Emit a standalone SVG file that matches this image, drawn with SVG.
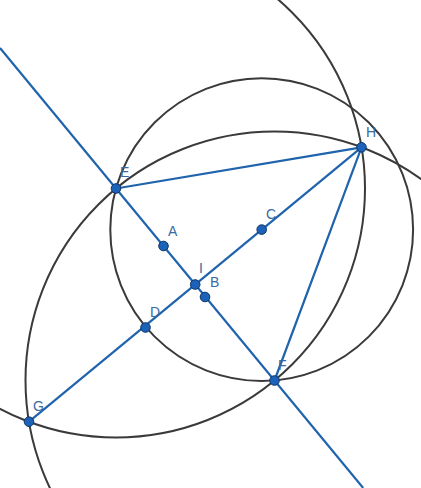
<svg xmlns="http://www.w3.org/2000/svg" width="421" height="488" viewBox="0 0 421 488">
<style>
.circ{fill:none;stroke:#3a3a3a;stroke-width:2}
.ln{stroke:#1f63ad;stroke-width:2.2;fill:none}
.pt{fill:#1c62b8;stroke:#0d3566;stroke-width:1}
.lb{font-family:"Liberation Sans",Arial,sans-serif;font-size:14px;fill:#3a6aa3}
</style>
<rect width="421" height="488" fill="#ffffff"/>
<g id="curves">
<circle class="circ" cx="116" cy="188.5" r="249"/>
<circle class="circ" cx="274.5" cy="380.5" r="249"/>
<circle class="circ" cx="261.7" cy="229.6" r="151.4"/>
</g>
<g id="connectors">
<line class="ln" x1="0" y1="48" x2="363.2" y2="488"/>
<line class="ln" x1="29" y1="421.7" x2="361.5" y2="147.3"/>
<line class="ln" x1="116" y1="188.5" x2="361.5" y2="147.3"/>
<line class="ln" x1="361.5" y1="147.3" x2="274.5" y2="380.5"/>
</g>
<g id="A"><circle class="pt" cx="163.5" cy="246" r="4.8"/><text class="lb" x="168" y="236">A</text></g>
<g id="B"><circle class="pt" cx="205" cy="297" r="4.8"/><text class="lb" x="210" y="287">B</text></g>
<g id="C"><circle class="pt" cx="261.7" cy="229.6" r="4.8"/><text class="lb" x="266" y="219">C</text></g>
<g id="D"><circle class="pt" cx="145.5" cy="327.5" r="4.8"/><text class="lb" x="150" y="317">D</text></g>
<g id="E"><circle class="pt" cx="116" cy="188.5" r="4.8"/><text class="lb" x="120" y="177">E</text></g>
<g id="F"><circle class="pt" cx="274.5" cy="380.5" r="4.8"/><text class="lb" x="278" y="370">F</text></g>
<g id="G"><circle class="pt" cx="29" cy="421.7" r="4.8"/><text class="lb" x="33" y="411">G</text></g>
<g id="H"><circle class="pt" cx="361.5" cy="147.3" r="4.8"/><text class="lb" x="366" y="137">H</text></g>
<g id="I"><circle class="pt" cx="195.2" cy="284.5" r="4.8"/><text class="lb" x="199" y="273">I</text></g>
</svg>
